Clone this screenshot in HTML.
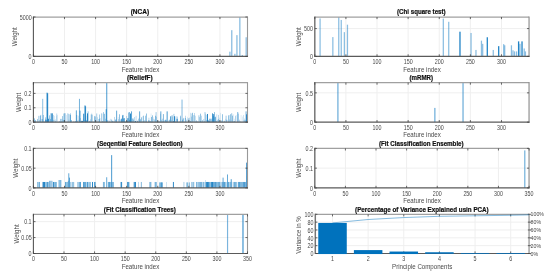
<!DOCTYPE html>
<html><head><meta charset="utf-8"><title>Feature selection weights</title>
<style>
html,body{margin:0;padding:0;background:#fff;}
body{width:550px;height:276px;overflow:hidden;}
svg{display:block;font-family:"Liberation Sans", sans-serif;}
.g{stroke:#efefef;stroke-width:1;}
.bt{fill:none;stroke:#a0a0a0;stroke-width:1.25;}
.bb{fill:none;stroke:#5a5a5a;stroke-width:1.15;}
.bl{fill:none;stroke:#555;stroke-width:1.1;}
.bl2{fill:none;stroke:#777;stroke-width:1.5;}
.br{fill:none;stroke:#999;stroke-width:1.1;}
.br2{fill:none;stroke:#909090;stroke-width:1.2;}
.tk{stroke:#444;stroke-width:0.8;}
.t{font-size:6.3px;fill:#4a4a4a;}
.l{font-size:7.0px;fill:#4a4a4a;}
.ti{font-size:7.1px;font-weight:bold;fill:#111;stroke:#111;stroke-width:0.22;}
.t2{font-size:6.2px;fill:#4a4a4a;}
</style></head><body>
<svg width="550" height="276" viewBox="0 0 550 276">
<rect width="550" height="276" fill="#fff"/>
<defs><filter id="bl" x="0" y="0" width="550" height="276" filterUnits="userSpaceOnUse"><feGaussianBlur stdDeviation="0.4"/></filter>
<filter id="bx" x="0" y="0" width="550" height="276" filterUnits="userSpaceOnUse"><feGaussianBlur stdDeviation="0.45"/></filter></defs>
<g filter="url(#bl)">
<line x1="64.49" y1="17" x2="64.49" y2="56.4" class="g"/>
<line x1="95.58" y1="17" x2="95.58" y2="56.4" class="g"/>
<line x1="126.68" y1="17" x2="126.68" y2="56.4" class="g"/>
<line x1="157.77" y1="17" x2="157.77" y2="56.4" class="g"/>
<line x1="188.86" y1="17" x2="188.86" y2="56.4" class="g"/>
<line x1="219.95" y1="17" x2="219.95" y2="56.4" class="g"/>
<g fill="#0072BD" fill-opacity="0.46">
<rect x="229.25" y="51.67" width="1.3" height="4.73"/>
<rect x="231.12" y="30.16" width="1.3" height="26.24"/>
<rect x="234.23" y="53.8" width="1.3" height="2.6"/>
<rect x="236.28" y="35.12" width="1.3" height="21.28"/>
<rect x="239.2" y="17" width="1.3" height="39.4"/>
<rect x="241.69" y="55.06" width="1.3" height="1.34"/>
<rect x="245.54" y="37.25" width="1.3" height="19.15"/>
</g>
<path d="M33.4 17H247.5" class="bt"/>
<path d="M247.5 16.5V56.9" class="br"/>
<path d="M33.4 56.4H248" class="bb"/>
<path d="M33.4 16.4V56.9" class="bl"/>
<line x1="33.4" y1="56.4" x2="33.4" y2="54.3" class="tk"/>
<line x1="33.4" y1="17" x2="33.4" y2="19.1" class="tk"/>
<line x1="64.49" y1="56.4" x2="64.49" y2="54.3" class="tk"/>
<line x1="64.49" y1="17" x2="64.49" y2="19.1" class="tk"/>
<line x1="95.58" y1="56.4" x2="95.58" y2="54.3" class="tk"/>
<line x1="95.58" y1="17" x2="95.58" y2="19.1" class="tk"/>
<line x1="126.68" y1="56.4" x2="126.68" y2="54.3" class="tk"/>
<line x1="126.68" y1="17" x2="126.68" y2="19.1" class="tk"/>
<line x1="157.77" y1="56.4" x2="157.77" y2="54.3" class="tk"/>
<line x1="157.77" y1="17" x2="157.77" y2="19.1" class="tk"/>
<line x1="188.86" y1="56.4" x2="188.86" y2="54.3" class="tk"/>
<line x1="188.86" y1="17" x2="188.86" y2="19.1" class="tk"/>
<line x1="219.95" y1="56.4" x2="219.95" y2="54.3" class="tk"/>
<line x1="219.95" y1="17" x2="219.95" y2="19.1" class="tk"/>
<line x1="33.4" y1="56.4" x2="35.5" y2="56.4" class="tk"/>
<line x1="247.5" y1="56.4" x2="245.4" y2="56.4" class="tk"/>
<line x1="33.4" y1="17" x2="35.5" y2="17" class="tk"/>
<line x1="247.5" y1="17" x2="245.4" y2="17" class="tk"/>
<line x1="64.49" y1="82.6" x2="64.49" y2="122.15" class="g"/>
<line x1="95.58" y1="82.6" x2="95.58" y2="122.15" class="g"/>
<line x1="126.68" y1="82.6" x2="126.68" y2="122.15" class="g"/>
<line x1="157.77" y1="82.6" x2="157.77" y2="122.15" class="g"/>
<line x1="188.86" y1="82.6" x2="188.86" y2="122.15" class="g"/>
<line x1="219.95" y1="82.6" x2="219.95" y2="122.15" class="g"/>
<line x1="33.4" y1="107.77" x2="247.5" y2="107.77" class="g"/>
<line x1="33.4" y1="93.39" x2="247.5" y2="93.39" class="g"/>
<g fill="#0072BD" fill-opacity="0.9">
<rect x="33.75" y="120.63" width="0.42" height="1.52" fill-opacity="0.45"/>
<rect x="34.58" y="118.35" width="0.42" height="3.8" fill-opacity="1.0"/>
<rect x="35" y="120.11" width="0.42" height="2.04" fill-opacity="1.0"/>
<rect x="35.83" y="121.57" width="0.42" height="0.58" fill-opacity="0.45"/>
<rect x="36.25" y="121.65" width="0.42" height="0.5" fill-opacity="0.6"/>
<rect x="37.08" y="122.05" width="0.42" height="0.1" fill-opacity="1.0"/>
<rect x="37.5" y="118.98" width="0.42" height="3.17" fill-opacity="0.85"/>
<rect x="38.33" y="121.89" width="0.42" height="0.26" fill-opacity="1.0"/>
<rect x="38.75" y="115.83" width="0.42" height="6.32" fill-opacity="1.0"/>
<rect x="39.17" y="120.03" width="0.83" height="2.12" fill-opacity="0.3"/>
<rect x="40" y="115.54" width="0.42" height="6.61" fill-opacity="1.0"/>
<rect x="40.42" y="114.85" width="0.83" height="7.3" fill-opacity="0.3"/>
<rect x="41.25" y="122.01" width="0.42" height="0.14" fill-opacity="0.85"/>
<rect x="41.67" y="119" width="0.83" height="3.15" fill-opacity="0.6"/>
<rect x="42.28" y="98.85" width="0.9" height="23.3" fill-opacity="0.5"/>
<rect x="42.92" y="114.96" width="0.83" height="7.19" fill-opacity="0.45"/>
<rect x="43.75" y="120.85" width="0.42" height="1.3" fill-opacity="0.45"/>
<rect x="44.17" y="121.91" width="0.83" height="0.24" fill-opacity="1.0"/>
<rect x="45" y="117.32" width="0.42" height="4.83" fill-opacity="0.85"/>
<rect x="45.42" y="119.57" width="0.83" height="2.58" fill-opacity="1.0"/>
<rect x="46.25" y="120.27" width="0.42" height="1.88" fill-opacity="1.0"/>
<rect x="46.63" y="92.67" width="0.9" height="29.48" fill-opacity="1"/>
<rect x="47.25" y="93.39" width="0.9" height="28.76" fill-opacity="0.9"/>
<rect x="47.92" y="118.86" width="0.83" height="3.29" fill-opacity="1.0"/>
<rect x="48.75" y="117.73" width="0.42" height="4.42" fill-opacity="0.45"/>
<rect x="49.17" y="115.34" width="0.83" height="6.81" fill-opacity="0.45"/>
<rect x="50" y="119.15" width="0.42" height="3" fill-opacity="1.0"/>
<rect x="50.42" y="113.23" width="0.83" height="8.92" fill-opacity="0.45"/>
<rect x="51.25" y="113.52" width="0.42" height="8.63" fill-opacity="1.0"/>
<rect x="51.67" y="113.23" width="0.83" height="8.92" fill-opacity="0.85"/>
<rect x="52.5" y="113.52" width="0.42" height="8.63" fill-opacity="1.0"/>
<rect x="52.92" y="114.96" width="0.83" height="7.19" fill-opacity="0.3"/>
<rect x="53.75" y="119.88" width="0.42" height="2.27" fill-opacity="1.0"/>
<rect x="54.17" y="115.84" width="0.42" height="6.31" fill-opacity="0.3"/>
<rect x="55" y="119.38" width="0.42" height="2.77" fill-opacity="0.45"/>
<rect x="55.42" y="121.34" width="0.42" height="0.81" fill-opacity="1.0"/>
<rect x="56.25" y="115.7" width="0.42" height="6.45" fill-opacity="0.3"/>
<rect x="56.67" y="113.52" width="0.42" height="8.63" fill-opacity="0.6"/>
<rect x="57.5" y="114.96" width="0.42" height="7.19" fill-opacity="0.3"/>
<rect x="57.92" y="121.62" width="0.42" height="0.53" fill-opacity="0.6"/>
<rect x="58.75" y="122.02" width="0.42" height="0.13" fill-opacity="0.85"/>
<rect x="59.17" y="121.27" width="0.42" height="0.88" fill-opacity="1.0"/>
<rect x="60" y="121.87" width="0.42" height="0.28" fill-opacity="1.0"/>
<rect x="60.42" y="118.87" width="0.42" height="3.28" fill-opacity="0.85"/>
<rect x="61.25" y="121.63" width="0.42" height="0.52" fill-opacity="1.0"/>
<rect x="61.67" y="118.84" width="0.42" height="3.31" fill-opacity="0.85"/>
<rect x="62.5" y="116.07" width="0.42" height="6.08" fill-opacity="0.85"/>
<rect x="62.92" y="119.98" width="0.42" height="2.17" fill-opacity="1.0"/>
<rect x="63.75" y="113.52" width="0.42" height="8.63" fill-opacity="1.0"/>
<rect x="64.17" y="113.23" width="0.42" height="8.92" fill-opacity="0.85"/>
<rect x="65" y="121.88" width="0.42" height="0.27" fill-opacity="0.45"/>
<rect x="65.42" y="113.23" width="0.42" height="8.92" fill-opacity="0.6"/>
<rect x="66.25" y="114.96" width="0.42" height="7.19" fill-opacity="0.3"/>
<rect x="66.67" y="121.67" width="0.42" height="0.48" fill-opacity="0.3"/>
<rect x="67.5" y="113.23" width="0.42" height="8.92" fill-opacity="0.45"/>
<rect x="67.92" y="113.69" width="0.42" height="8.46" fill-opacity="0.85"/>
<rect x="68.75" y="119.49" width="0.42" height="2.66" fill-opacity="0.45"/>
<rect x="69.17" y="114.24" width="0.42" height="7.91" fill-opacity="0.6"/>
<rect x="70" y="114.96" width="0.42" height="7.19" fill-opacity="1.0"/>
<rect x="70.42" y="113.38" width="0.42" height="8.77" fill-opacity="0.85"/>
<rect x="71.25" y="120.02" width="0.42" height="2.13" fill-opacity="1.0"/>
<rect x="71.67" y="121.42" width="0.42" height="0.73" fill-opacity="0.6"/>
<rect x="72.5" y="122.07" width="0.42" height="0.08" fill-opacity="0.85"/>
<rect x="72.92" y="121.96" width="0.42" height="0.19" fill-opacity="1.0"/>
<rect x="73.75" y="120.87" width="0.42" height="1.28" fill-opacity="0.85"/>
<rect x="74.17" y="121.98" width="0.42" height="0.17" fill-opacity="1.0"/>
<rect x="75" y="121.73" width="0.42" height="0.42" fill-opacity="0.6"/>
<rect x="75.42" y="121.14" width="0.42" height="1.01" fill-opacity="1.0"/>
<rect x="75.86" y="110.36" width="0.9" height="11.79" fill-opacity="0.7"/>
<rect x="76.67" y="114.96" width="0.42" height="7.19" fill-opacity="0.85"/>
<rect x="77.5" y="120.7" width="0.42" height="1.45" fill-opacity="1.0"/>
<rect x="77.92" y="115.7" width="0.42" height="6.45" fill-opacity="0.45"/>
<rect x="78.75" y="119.82" width="0.42" height="2.33" fill-opacity="0.6"/>
<rect x="78.97" y="98.85" width="0.9" height="23.3" fill-opacity="0.6"/>
<rect x="79.68" y="110.64" width="0.72" height="11.51" fill-opacity="0.85"/>
<rect x="80.42" y="118.09" width="0.42" height="4.06" fill-opacity="0.6"/>
<rect x="80.83" y="121.06" width="0.83" height="1.09" fill-opacity="1.0"/>
<rect x="81.67" y="120.64" width="0.42" height="1.51" fill-opacity="1.0"/>
<rect x="82.08" y="120.93" width="0.83" height="1.22" fill-opacity="1.0"/>
<rect x="82.92" y="118.61" width="0.42" height="3.54" fill-opacity="0.45"/>
<rect x="83.33" y="113.68" width="0.83" height="8.47" fill-opacity="1.0"/>
<rect x="84.17" y="120.1" width="0.42" height="2.05" fill-opacity="0.6"/>
<rect x="84.56" y="105.47" width="0.9" height="16.68" fill-opacity="1"/>
<rect x="85.18" y="106.33" width="0.9" height="15.82" fill-opacity="0.8"/>
<rect x="85.83" y="120.45" width="0.83" height="1.7" fill-opacity="1.0"/>
<rect x="86.67" y="115.72" width="0.42" height="6.43" fill-opacity="0.3"/>
<rect x="87.08" y="113.36" width="0.83" height="8.79" fill-opacity="1.0"/>
<rect x="87.67" y="111.36" width="0.9" height="10.79" fill-opacity="0.45"/>
<rect x="88.33" y="121.55" width="0.83" height="0.6" fill-opacity="0.45"/>
<rect x="89.17" y="120.93" width="0.42" height="1.22" fill-opacity="1.0"/>
<rect x="89.58" y="121.83" width="0.83" height="0.32" fill-opacity="1.0"/>
<rect x="90.42" y="119.31" width="0.42" height="2.84" fill-opacity="0.6"/>
<rect x="90.83" y="114.39" width="0.83" height="7.76" fill-opacity="0.6"/>
<rect x="91.67" y="112.84" width="0.42" height="9.31" fill-opacity="0.3"/>
<rect x="92.08" y="114.63" width="0.83" height="7.52" fill-opacity="0.3"/>
<rect x="92.92" y="121.89" width="0.42" height="0.26" fill-opacity="0.85"/>
<rect x="93.33" y="121.91" width="0.83" height="0.24" fill-opacity="1.0"/>
<rect x="94.17" y="115.96" width="0.42" height="6.19" fill-opacity="0.85"/>
<rect x="94.58" y="117.18" width="0.83" height="4.97" fill-opacity="0.3"/>
<rect x="95.42" y="116.25" width="0.42" height="5.9" fill-opacity="0.6"/>
<rect x="95.83" y="121.39" width="0.42" height="0.76" fill-opacity="0.3"/>
<rect x="96.67" y="113.43" width="0.42" height="8.72" fill-opacity="0.85"/>
<rect x="97.08" y="117.18" width="0.42" height="4.97" fill-opacity="0.45"/>
<rect x="97.92" y="121.24" width="0.42" height="0.91" fill-opacity="0.3"/>
<rect x="98.33" y="119.04" width="0.42" height="3.11" fill-opacity="0.6"/>
<rect x="99.17" y="114.54" width="0.42" height="7.61" fill-opacity="0.85"/>
<rect x="99.58" y="118.68" width="0.42" height="3.47" fill-opacity="0.85"/>
<rect x="100.42" y="118.07" width="0.42" height="4.08" fill-opacity="0.3"/>
<rect x="100.83" y="121.98" width="0.42" height="0.17" fill-opacity="0.3"/>
<rect x="101.67" y="113.36" width="0.42" height="8.79" fill-opacity="1.0"/>
<rect x="102.08" y="121.2" width="0.42" height="0.95" fill-opacity="1.0"/>
<rect x="102.92" y="113.79" width="0.42" height="8.36" fill-opacity="0.3"/>
<rect x="103.33" y="112.08" width="0.42" height="10.07" fill-opacity="0.85"/>
<rect x="104.17" y="122.13" width="0.42" height="0.02" fill-opacity="1.0"/>
<rect x="104.58" y="113.81" width="0.42" height="8.34" fill-opacity="1.0"/>
<rect x="105.42" y="118.72" width="0.42" height="3.43" fill-opacity="0.6"/>
<rect x="105.8" y="109.21" width="0.72" height="12.94" fill-opacity="1.0"/>
<rect x="106.33" y="82.6" width="0.9" height="39.55" fill-opacity="0.8"/>
<rect x="107.08" y="120.28" width="0.42" height="1.87" fill-opacity="1.0"/>
<rect x="107.92" y="121.48" width="0.42" height="0.67" fill-opacity="0.45"/>
<rect x="108.33" y="119.98" width="0.42" height="2.17" fill-opacity="0.3"/>
<rect x="109.17" y="121.1" width="0.42" height="1.05" fill-opacity="0.6"/>
<rect x="109.58" y="119.88" width="0.42" height="2.27" fill-opacity="0.3"/>
<rect x="110.42" y="118.79" width="0.42" height="3.36" fill-opacity="0.3"/>
<rect x="110.83" y="118.76" width="0.42" height="3.39" fill-opacity="0.3"/>
<rect x="111.67" y="119.7" width="0.42" height="2.45" fill-opacity="1.0"/>
<rect x="112.08" y="120.95" width="0.42" height="1.2" fill-opacity="1.0"/>
<rect x="112.92" y="120.55" width="0.42" height="1.6" fill-opacity="0.3"/>
<rect x="113.33" y="121.23" width="0.42" height="0.92" fill-opacity="0.45"/>
<rect x="114.17" y="121.61" width="0.42" height="0.54" fill-opacity="0.85"/>
<rect x="114.58" y="116.95" width="0.42" height="5.2" fill-opacity="0.6"/>
<rect x="115.42" y="119.73" width="0.42" height="2.42" fill-opacity="1.0"/>
<rect x="115.83" y="119.08" width="0.42" height="3.07" fill-opacity="0.6"/>
<rect x="116.37" y="110.64" width="0.72" height="11.51" fill-opacity="0.85"/>
<rect x="117.08" y="121.83" width="0.42" height="0.32" fill-opacity="1.0"/>
<rect x="117.92" y="117.09" width="0.42" height="5.06" fill-opacity="0.3"/>
<rect x="118.33" y="119.14" width="0.42" height="3.01" fill-opacity="0.6"/>
<rect x="119.17" y="114.4" width="0.42" height="7.75" fill-opacity="0.6"/>
<rect x="119.58" y="114.24" width="0.42" height="7.91" fill-opacity="0.6"/>
<rect x="120.42" y="119.31" width="0.42" height="2.84" fill-opacity="0.45"/>
<rect x="120.83" y="119.7" width="0.42" height="2.45" fill-opacity="0.85"/>
<rect x="121.25" y="118.7" width="0.83" height="3.45" fill-opacity="0.85"/>
<rect x="122.08" y="116.03" width="0.42" height="6.12" fill-opacity="0.85"/>
<rect x="122.5" y="114.93" width="0.83" height="7.22" fill-opacity="1.0"/>
<rect x="123.33" y="118.69" width="0.42" height="3.46" fill-opacity="0.85"/>
<rect x="123.75" y="118.16" width="0.83" height="3.99" fill-opacity="1.0"/>
<rect x="124.58" y="121.64" width="0.42" height="0.51" fill-opacity="1.0"/>
<rect x="125" y="121.87" width="0.83" height="0.28" fill-opacity="1.0"/>
<rect x="125.83" y="121.38" width="0.42" height="0.77" fill-opacity="1.0"/>
<rect x="126.25" y="115.97" width="0.83" height="6.18" fill-opacity="0.3"/>
<rect x="127.08" y="121.33" width="0.42" height="0.82" fill-opacity="1.0"/>
<rect x="127.5" y="118.14" width="0.83" height="4.01" fill-opacity="1.0"/>
<rect x="128.33" y="112.9" width="0.42" height="9.25" fill-opacity="0.6"/>
<rect x="128.75" y="112.08" width="0.83" height="10.07" fill-opacity="0.85"/>
<rect x="129.58" y="119.81" width="0.42" height="2.34" fill-opacity="1.0"/>
<rect x="130" y="113.52" width="0.83" height="8.63" fill-opacity="1.0"/>
<rect x="130.83" y="121.65" width="0.42" height="0.5" fill-opacity="1.0"/>
<rect x="131.29" y="111.36" width="0.72" height="10.79" fill-opacity="0.85"/>
<rect x="132.08" y="121.78" width="0.42" height="0.37" fill-opacity="0.6"/>
<rect x="132.5" y="118.5" width="0.83" height="3.65" fill-opacity="0.85"/>
<rect x="133.33" y="119.92" width="0.42" height="2.23" fill-opacity="0.6"/>
<rect x="133.75" y="121.77" width="0.83" height="0.38" fill-opacity="1.0"/>
<rect x="134.58" y="117.08" width="0.42" height="5.07" fill-opacity="0.6"/>
<rect x="135" y="121.02" width="0.83" height="1.13" fill-opacity="1.0"/>
<rect x="135.83" y="115.76" width="0.42" height="6.39" fill-opacity="0.6"/>
<rect x="136.25" y="121.84" width="0.42" height="0.31" fill-opacity="0.3"/>
<rect x="137.08" y="121.25" width="0.42" height="0.9" fill-opacity="0.85"/>
<rect x="137.5" y="120.68" width="0.42" height="1.47" fill-opacity="1.0"/>
<rect x="138.33" y="118.77" width="0.42" height="3.38" fill-opacity="0.6"/>
<rect x="138.75" y="117.81" width="0.42" height="4.34" fill-opacity="0.3"/>
<rect x="139.37" y="111.36" width="0.72" height="10.79" fill-opacity="0.85"/>
<rect x="140" y="119.29" width="0.42" height="2.86" fill-opacity="1.0"/>
<rect x="140.83" y="122.08" width="0.42" height="0.07" fill-opacity="1.0"/>
<rect x="141.25" y="117.33" width="0.42" height="4.82" fill-opacity="1.0"/>
<rect x="142.08" y="121.07" width="0.42" height="1.08" fill-opacity="0.45"/>
<rect x="142.5" y="116.25" width="0.42" height="5.9" fill-opacity="0.3"/>
<rect x="143.33" y="115.68" width="0.42" height="6.47" fill-opacity="1.0"/>
<rect x="143.75" y="121.16" width="0.42" height="0.99" fill-opacity="1.0"/>
<rect x="144.58" y="120.17" width="0.42" height="1.98" fill-opacity="0.6"/>
<rect x="145" y="115.68" width="0.42" height="6.47" fill-opacity="0.85"/>
<rect x="145.83" y="120.68" width="0.42" height="1.47" fill-opacity="0.6"/>
<rect x="146.25" y="113.52" width="0.42" height="8.63" fill-opacity="1.0"/>
<rect x="147.08" y="121.96" width="0.42" height="0.19" fill-opacity="0.6"/>
<rect x="147.5" y="121.92" width="0.42" height="0.23" fill-opacity="1.0"/>
<rect x="148.33" y="120.25" width="0.42" height="1.9" fill-opacity="1.0"/>
<rect x="148.75" y="117.72" width="0.42" height="4.43" fill-opacity="0.6"/>
<rect x="149.58" y="120.56" width="0.42" height="1.59" fill-opacity="1.0"/>
<rect x="150" y="120.96" width="0.42" height="1.19" fill-opacity="0.85"/>
<rect x="150.83" y="113.52" width="0.42" height="8.63" fill-opacity="0.3"/>
<rect x="151.25" y="116.97" width="0.42" height="5.18" fill-opacity="1.0"/>
<rect x="152.08" y="121.6" width="0.42" height="0.55" fill-opacity="0.3"/>
<rect x="152.5" y="115.37" width="0.42" height="6.78" fill-opacity="1.0"/>
<rect x="153.33" y="117.31" width="0.42" height="4.84" fill-opacity="0.3"/>
<rect x="153.75" y="118.96" width="0.42" height="3.19" fill-opacity="0.6"/>
<rect x="154.58" y="119.76" width="0.42" height="2.39" fill-opacity="0.6"/>
<rect x="155" y="115.73" width="0.42" height="6.42" fill-opacity="1.0"/>
<rect x="155.83" y="112.08" width="0.42" height="10.07" fill-opacity="0.85"/>
<rect x="156.25" y="116.73" width="0.42" height="5.42" fill-opacity="0.6"/>
<rect x="157.08" y="120.15" width="0.42" height="2" fill-opacity="1.0"/>
<rect x="157.5" y="122" width="0.42" height="0.15" fill-opacity="1.0"/>
<rect x="158.33" y="121.3" width="0.42" height="0.85" fill-opacity="0.6"/>
<rect x="158.75" y="120.6" width="0.42" height="1.55" fill-opacity="0.45"/>
<rect x="159.58" y="121.18" width="0.42" height="0.97" fill-opacity="0.6"/>
<rect x="160" y="113.75" width="0.42" height="8.4" fill-opacity="0.45"/>
<rect x="160.52" y="111.36" width="0.72" height="10.79" fill-opacity="0.85"/>
<rect x="161.25" y="119.88" width="0.42" height="2.27" fill-opacity="0.6"/>
<rect x="161.67" y="121.64" width="0.83" height="0.51" fill-opacity="1.0"/>
<rect x="162.5" y="118.65" width="0.42" height="3.5" fill-opacity="0.6"/>
<rect x="162.92" y="114.1" width="0.83" height="8.05" fill-opacity="0.6"/>
<rect x="163.75" y="121.04" width="0.42" height="1.11" fill-opacity="0.85"/>
<rect x="164.17" y="120.13" width="0.83" height="2.02" fill-opacity="0.3"/>
<rect x="165" y="121.71" width="0.42" height="0.44" fill-opacity="0.3"/>
<rect x="165.42" y="119.77" width="0.83" height="2.38" fill-opacity="1.0"/>
<rect x="166.25" y="121.57" width="0.42" height="0.58" fill-opacity="1.0"/>
<rect x="166.74" y="111.36" width="0.72" height="10.79" fill-opacity="1.0"/>
<rect x="167.5" y="121.69" width="0.42" height="0.46" fill-opacity="0.45"/>
<rect x="167.92" y="122.12" width="0.83" height="0.03" fill-opacity="0.6"/>
<rect x="168.75" y="120.43" width="0.42" height="1.72" fill-opacity="1.0"/>
<rect x="169.17" y="119.71" width="0.83" height="2.44" fill-opacity="0.45"/>
<rect x="170" y="116.66" width="0.42" height="5.49" fill-opacity="1.0"/>
<rect x="170.42" y="116.03" width="0.83" height="6.12" fill-opacity="0.6"/>
<rect x="171.25" y="120.2" width="0.42" height="1.95" fill-opacity="0.45"/>
<rect x="171.67" y="115.25" width="0.83" height="6.9" fill-opacity="0.6"/>
<rect x="172.5" y="116.7" width="0.42" height="5.45" fill-opacity="0.45"/>
<rect x="172.92" y="121.19" width="0.83" height="0.96" fill-opacity="1.0"/>
<rect x="173.75" y="113.87" width="0.42" height="8.28" fill-opacity="0.85"/>
<rect x="174.17" y="116.22" width="0.83" height="5.93" fill-opacity="1.0"/>
<rect x="175" y="121.55" width="0.42" height="0.6" fill-opacity="1.0"/>
<rect x="175.42" y="116.4" width="0.83" height="5.75" fill-opacity="0.3"/>
<rect x="176.25" y="116.18" width="0.42" height="5.97" fill-opacity="0.3"/>
<rect x="176.67" y="118.82" width="0.83" height="3.33" fill-opacity="1.0"/>
<rect x="177.5" y="116.56" width="0.42" height="5.59" fill-opacity="0.6"/>
<rect x="177.92" y="122.11" width="0.42" height="0.04" fill-opacity="0.6"/>
<rect x="178.75" y="121.73" width="0.42" height="0.42" fill-opacity="1.0"/>
<rect x="179.17" y="121.19" width="0.42" height="0.96" fill-opacity="0.45"/>
<rect x="180" y="115.68" width="0.42" height="6.47" fill-opacity="0.85"/>
<rect x="180.42" y="116.6" width="0.42" height="5.55" fill-opacity="0.45"/>
<rect x="181.25" y="120.99" width="0.42" height="1.16" fill-opacity="0.3"/>
<rect x="181.57" y="99.57" width="0.9" height="22.58" fill-opacity="0.55"/>
<rect x="182.5" y="119.69" width="0.42" height="2.46" fill-opacity="1.0"/>
<rect x="182.92" y="118.36" width="0.42" height="3.79" fill-opacity="1.0"/>
<rect x="183.75" y="117.83" width="0.42" height="4.32" fill-opacity="0.45"/>
<rect x="184.17" y="121.84" width="0.42" height="0.31" fill-opacity="1.0"/>
<rect x="185" y="117.96" width="0.42" height="4.19" fill-opacity="0.85"/>
<rect x="185.42" y="115.75" width="0.42" height="6.4" fill-opacity="0.6"/>
<rect x="186.25" y="120.06" width="0.42" height="2.09" fill-opacity="0.45"/>
<rect x="186.67" y="119.33" width="0.42" height="2.82" fill-opacity="0.3"/>
<rect x="187.5" y="116.78" width="0.42" height="5.37" fill-opacity="0.3"/>
<rect x="187.92" y="118.33" width="0.42" height="3.82" fill-opacity="1.0"/>
<rect x="188.75" y="121.86" width="0.42" height="0.29" fill-opacity="0.45"/>
<rect x="189.17" y="117.68" width="0.42" height="4.47" fill-opacity="0.6"/>
<rect x="190" y="120.97" width="0.42" height="1.18" fill-opacity="1.0"/>
<rect x="190.42" y="112.8" width="0.42" height="9.35" fill-opacity="0.45"/>
<rect x="191.25" y="116.56" width="0.42" height="5.59" fill-opacity="0.6"/>
<rect x="191.67" y="113.52" width="0.42" height="8.63" fill-opacity="0.6"/>
<rect x="192.5" y="112.8" width="0.42" height="9.35" fill-opacity="1.0"/>
<rect x="192.92" y="120.71" width="0.42" height="1.44" fill-opacity="0.3"/>
<rect x="193.75" y="115.11" width="0.42" height="7.04" fill-opacity="1.0"/>
<rect x="194.17" y="112.99" width="0.42" height="9.16" fill-opacity="0.6"/>
<rect x="195" y="121.62" width="0.42" height="0.53" fill-opacity="1.0"/>
<rect x="195.42" y="115.77" width="0.42" height="6.38" fill-opacity="0.45"/>
<rect x="196.25" y="120.34" width="0.42" height="1.81" fill-opacity="0.85"/>
<rect x="196.67" y="121.06" width="0.42" height="1.09" fill-opacity="0.6"/>
<rect x="197.5" y="121.48" width="0.42" height="0.67" fill-opacity="1.0"/>
<rect x="197.92" y="121.55" width="0.42" height="0.6" fill-opacity="0.6"/>
<rect x="198.75" y="115.3" width="0.42" height="6.85" fill-opacity="0.85"/>
<rect x="199.17" y="117.09" width="0.42" height="5.06" fill-opacity="0.6"/>
<rect x="200" y="113.66" width="0.42" height="8.49" fill-opacity="1.0"/>
<rect x="200.42" y="121.12" width="0.42" height="1.03" fill-opacity="0.85"/>
<rect x="201.25" y="115.68" width="0.42" height="6.47" fill-opacity="0.6"/>
<rect x="201.67" y="121.58" width="0.42" height="0.57" fill-opacity="0.85"/>
<rect x="202.5" y="120.26" width="0.42" height="1.89" fill-opacity="1.0"/>
<rect x="202.92" y="121.75" width="0.42" height="0.4" fill-opacity="0.85"/>
<rect x="203.33" y="118.95" width="0.83" height="3.2" fill-opacity="0.3"/>
<rect x="204.17" y="121.29" width="0.42" height="0.86" fill-opacity="0.85"/>
<rect x="204.58" y="112.08" width="0.83" height="10.07" fill-opacity="0.45"/>
<rect x="205.42" y="113.63" width="0.42" height="8.52" fill-opacity="0.45"/>
<rect x="205.83" y="114.84" width="0.83" height="7.31" fill-opacity="0.3"/>
<rect x="206.67" y="120.04" width="0.42" height="2.11" fill-opacity="0.85"/>
<rect x="207.08" y="113.98" width="0.83" height="8.17" fill-opacity="1.0"/>
<rect x="207.92" y="119.95" width="0.42" height="2.2" fill-opacity="1.0"/>
<rect x="208.33" y="120.88" width="0.83" height="1.27" fill-opacity="0.85"/>
<rect x="209.17" y="121.19" width="0.42" height="0.96" fill-opacity="1.0"/>
<rect x="209.58" y="118.71" width="0.83" height="3.44" fill-opacity="1.0"/>
<rect x="210.42" y="121.84" width="0.42" height="0.31" fill-opacity="0.45"/>
<rect x="210.83" y="120.54" width="0.83" height="1.61" fill-opacity="0.3"/>
<rect x="211.67" y="118.66" width="0.42" height="3.49" fill-opacity="1.0"/>
<rect x="212.08" y="113.34" width="0.83" height="8.81" fill-opacity="0.85"/>
<rect x="212.92" y="115.93" width="0.42" height="6.22" fill-opacity="1.0"/>
<rect x="213.33" y="114.1" width="0.83" height="8.05" fill-opacity="1.0"/>
<rect x="214.17" y="112.08" width="0.42" height="10.07" fill-opacity="1.0"/>
<rect x="214.58" y="117.26" width="0.83" height="4.89" fill-opacity="0.6"/>
<rect x="215.42" y="116.7" width="0.42" height="5.45" fill-opacity="1.0"/>
<rect x="215.83" y="120.88" width="0.83" height="1.27" fill-opacity="0.6"/>
<rect x="216.67" y="114.24" width="0.42" height="7.91" fill-opacity="0.45"/>
<rect x="217.08" y="120.16" width="0.83" height="1.99" fill-opacity="0.3"/>
<rect x="217.92" y="119.19" width="0.42" height="2.96" fill-opacity="1.0"/>
<rect x="218.33" y="114.93" width="0.42" height="7.22" fill-opacity="0.6"/>
<rect x="219.17" y="117.69" width="0.42" height="4.46" fill-opacity="0.3"/>
<rect x="219.58" y="120.04" width="0.42" height="2.11" fill-opacity="0.45"/>
<rect x="220.42" y="112.8" width="0.42" height="9.35" fill-opacity="0.3"/>
<rect x="220.83" y="121.11" width="0.42" height="1.04" fill-opacity="0.3"/>
<rect x="221.67" y="120.46" width="0.42" height="1.69" fill-opacity="1.0"/>
<rect x="222.08" y="114.24" width="0.42" height="7.91" fill-opacity="1.0"/>
<rect x="222.92" y="120.66" width="0.42" height="1.49" fill-opacity="0.45"/>
<rect x="223.33" y="122.05" width="0.42" height="0.1" fill-opacity="0.85"/>
<rect x="224.17" y="120.78" width="0.42" height="1.37" fill-opacity="1.0"/>
<rect x="224.58" y="121.85" width="0.42" height="0.3" fill-opacity="0.3"/>
<rect x="225.42" y="118.83" width="0.42" height="3.32" fill-opacity="0.3"/>
<rect x="225.83" y="115.68" width="0.42" height="6.47" fill-opacity="0.85"/>
<rect x="226.67" y="119.72" width="0.42" height="2.43" fill-opacity="1.0"/>
<rect x="227.08" y="120.17" width="0.42" height="1.98" fill-opacity="0.3"/>
<rect x="227.92" y="121.83" width="0.42" height="0.32" fill-opacity="0.45"/>
<rect x="228.33" y="115.32" width="0.42" height="6.83" fill-opacity="1.0"/>
<rect x="229.17" y="119.46" width="0.42" height="2.69" fill-opacity="0.6"/>
<rect x="229.58" y="115.06" width="0.42" height="7.09" fill-opacity="0.45"/>
<rect x="230.42" y="114.24" width="0.42" height="7.91" fill-opacity="1.0"/>
<rect x="230.83" y="119.91" width="0.42" height="2.24" fill-opacity="0.3"/>
<rect x="231.67" y="113.24" width="0.42" height="8.91" fill-opacity="1.0"/>
<rect x="232.08" y="115.62" width="0.42" height="6.53" fill-opacity="1.0"/>
<rect x="232.92" y="121.33" width="0.42" height="0.82" fill-opacity="0.85"/>
<rect x="233.33" y="114.32" width="0.42" height="7.83" fill-opacity="0.3"/>
<rect x="234.17" y="121" width="0.42" height="1.15" fill-opacity="1.0"/>
<rect x="234.58" y="118.73" width="0.42" height="3.42" fill-opacity="0.3"/>
<rect x="235.42" y="116.09" width="0.42" height="6.06" fill-opacity="0.6"/>
<rect x="235.83" y="114.96" width="0.42" height="7.19" fill-opacity="0.45"/>
<rect x="236.67" y="121.97" width="0.42" height="0.18" fill-opacity="0.6"/>
<rect x="237.08" y="112.08" width="0.42" height="10.07" fill-opacity="1.0"/>
<rect x="237.92" y="113.6" width="0.42" height="8.55" fill-opacity="0.85"/>
<rect x="238.33" y="112.08" width="0.42" height="10.07" fill-opacity="0.3"/>
<rect x="239.17" y="119.65" width="0.42" height="2.5" fill-opacity="0.6"/>
<rect x="239.58" y="121.25" width="0.42" height="0.9" fill-opacity="0.45"/>
<rect x="240.42" y="121.09" width="0.42" height="1.06" fill-opacity="0.45"/>
<rect x="240.83" y="114.96" width="0.42" height="7.19" fill-opacity="0.3"/>
<rect x="241.67" y="121.86" width="0.42" height="0.29" fill-opacity="1.0"/>
<rect x="242.08" y="116.55" width="0.42" height="5.6" fill-opacity="0.3"/>
<rect x="242.92" y="122.07" width="0.42" height="0.08" fill-opacity="0.45"/>
<rect x="243.33" y="114.96" width="0.42" height="7.19" fill-opacity="0.45"/>
<rect x="243.75" y="120.45" width="0.83" height="1.7" fill-opacity="0.6"/>
<rect x="244.58" y="118.52" width="0.42" height="3.63" fill-opacity="0.45"/>
<rect x="245" y="119.87" width="0.83" height="2.28" fill-opacity="0.3"/>
<rect x="245.71" y="111.36" width="0.72" height="10.79" fill-opacity="0.85"/>
<rect x="246.25" y="114.31" width="0.83" height="7.84" fill-opacity="1.0"/>
<rect x="247.08" y="121.87" width="0.42" height="0.28" fill-opacity="1.0"/>
</g>
<path d="M33.4 82.6H247.5" class="bt"/>
<path d="M247.5 82.1V122.65" class="br"/>
<path d="M33.4 122.15H248" class="bb"/>
<path d="M33.4 82V122.65" class="bl"/>
<line x1="33.4" y1="122.15" x2="33.4" y2="120.05" class="tk"/>
<line x1="33.4" y1="82.6" x2="33.4" y2="84.7" class="tk"/>
<line x1="64.49" y1="122.15" x2="64.49" y2="120.05" class="tk"/>
<line x1="64.49" y1="82.6" x2="64.49" y2="84.7" class="tk"/>
<line x1="95.58" y1="122.15" x2="95.58" y2="120.05" class="tk"/>
<line x1="95.58" y1="82.6" x2="95.58" y2="84.7" class="tk"/>
<line x1="126.68" y1="122.15" x2="126.68" y2="120.05" class="tk"/>
<line x1="126.68" y1="82.6" x2="126.68" y2="84.7" class="tk"/>
<line x1="157.77" y1="122.15" x2="157.77" y2="120.05" class="tk"/>
<line x1="157.77" y1="82.6" x2="157.77" y2="84.7" class="tk"/>
<line x1="188.86" y1="122.15" x2="188.86" y2="120.05" class="tk"/>
<line x1="188.86" y1="82.6" x2="188.86" y2="84.7" class="tk"/>
<line x1="219.95" y1="122.15" x2="219.95" y2="120.05" class="tk"/>
<line x1="219.95" y1="82.6" x2="219.95" y2="84.7" class="tk"/>
<line x1="33.4" y1="122.15" x2="35.5" y2="122.15" class="tk"/>
<line x1="247.5" y1="122.15" x2="245.4" y2="122.15" class="tk"/>
<line x1="33.4" y1="107.77" x2="35.5" y2="107.77" class="tk"/>
<line x1="247.5" y1="107.77" x2="245.4" y2="107.77" class="tk"/>
<line x1="33.4" y1="93.39" x2="35.5" y2="93.39" class="tk"/>
<line x1="247.5" y1="93.39" x2="245.4" y2="93.39" class="tk"/>
<line x1="64.49" y1="148.4" x2="64.49" y2="187.9" class="g"/>
<line x1="95.58" y1="148.4" x2="95.58" y2="187.9" class="g"/>
<line x1="126.68" y1="148.4" x2="126.68" y2="187.9" class="g"/>
<line x1="157.77" y1="148.4" x2="157.77" y2="187.9" class="g"/>
<line x1="188.86" y1="148.4" x2="188.86" y2="187.9" class="g"/>
<line x1="219.95" y1="148.4" x2="219.95" y2="187.9" class="g"/>
<line x1="33.4" y1="168.15" x2="247.5" y2="168.15" class="g"/>
<g fill="#0072BD" fill-opacity="0.95">
<rect x="37.5" y="181.97" width="0.42" height="5.93" fill-opacity="1.0"/>
<rect x="38.33" y="181.97" width="0.42" height="5.93" fill-opacity="0.45"/>
<rect x="38.75" y="181.97" width="0.42" height="5.93" fill-opacity="0.8"/>
<rect x="39.17" y="181.97" width="0.83" height="5.93" fill-opacity="0.6"/>
<rect x="42.5" y="181.97" width="0.42" height="5.93" fill-opacity="0.8"/>
<rect x="42.92" y="181.97" width="0.83" height="5.93" fill-opacity="1.0"/>
<rect x="43.75" y="181.97" width="0.42" height="5.93" fill-opacity="1.0"/>
<rect x="44.17" y="181.97" width="0.83" height="5.93" fill-opacity="1.0"/>
<rect x="45" y="181.97" width="0.42" height="5.93" fill-opacity="1.0"/>
<rect x="46.25" y="181.97" width="0.42" height="5.93" fill-opacity="0.45"/>
<rect x="46.67" y="181.97" width="0.83" height="5.93" fill-opacity="1.0"/>
<rect x="47.5" y="181.97" width="0.42" height="5.93" fill-opacity="0.8"/>
<rect x="47.92" y="181.97" width="0.83" height="5.93" fill-opacity="0.45"/>
<rect x="48.75" y="181.97" width="0.42" height="5.93" fill-opacity="0.45"/>
<rect x="49.17" y="180.79" width="0.83" height="7.11" fill-opacity="0.6"/>
<rect x="50" y="180.79" width="0.42" height="7.11" fill-opacity="0.45"/>
<rect x="50.42" y="180.79" width="0.83" height="7.11" fill-opacity="0.45"/>
<rect x="51.25" y="180.79" width="0.42" height="7.11" fill-opacity="0.45"/>
<rect x="51.67" y="180.79" width="0.83" height="7.11" fill-opacity="0.45"/>
<rect x="52.92" y="181.97" width="0.83" height="5.93" fill-opacity="1.0"/>
<rect x="53.75" y="181.97" width="0.42" height="5.93" fill-opacity="0.45"/>
<rect x="54.17" y="181.97" width="0.42" height="5.93" fill-opacity="1.0"/>
<rect x="55" y="181.97" width="0.42" height="5.93" fill-opacity="0.45"/>
<rect x="55.42" y="181.97" width="0.42" height="5.93" fill-opacity="1.0"/>
<rect x="56.25" y="181.97" width="0.42" height="5.93" fill-opacity="1.0"/>
<rect x="58.75" y="180" width="0.42" height="7.9" fill-opacity="1.0"/>
<rect x="59.17" y="180" width="0.42" height="7.9" fill-opacity="0.8"/>
<rect x="60" y="180" width="0.42" height="7.9" fill-opacity="0.6"/>
<rect x="60.42" y="180" width="0.42" height="7.9" fill-opacity="0.8"/>
<rect x="61.25" y="180" width="0.42" height="7.9" fill-opacity="0.45"/>
<rect x="65" y="181.97" width="0.42" height="5.93" fill-opacity="0.8"/>
<rect x="65.42" y="181.97" width="0.42" height="5.93" fill-opacity="1.0"/>
<rect x="66.25" y="181.97" width="0.42" height="5.93" fill-opacity="1.0"/>
<rect x="67.5" y="181.97" width="0.42" height="5.93" fill-opacity="1.0"/>
<rect x="67.92" y="180.79" width="0.42" height="7.11" fill-opacity="1.0"/>
<rect x="68.48" y="173.28" width="0.72" height="14.62" fill-opacity="0.85"/>
<rect x="69.11" y="177.63" width="0.72" height="10.27" fill-opacity="0.85"/>
<rect x="70" y="181.97" width="0.42" height="5.93" fill-opacity="0.8"/>
<rect x="71.67" y="181.97" width="0.42" height="5.93" fill-opacity="0.6"/>
<rect x="72.5" y="181.97" width="0.42" height="5.93" fill-opacity="0.8"/>
<rect x="72.92" y="181.97" width="0.42" height="5.93" fill-opacity="1.0"/>
<rect x="73.75" y="181.97" width="0.42" height="5.93" fill-opacity="0.45"/>
<rect x="77.5" y="181.97" width="0.42" height="5.93" fill-opacity="0.6"/>
<rect x="77.92" y="181.97" width="0.42" height="5.93" fill-opacity="1.0"/>
<rect x="79.17" y="181.97" width="0.42" height="5.93" fill-opacity="0.45"/>
<rect x="79.58" y="181.97" width="0.83" height="5.93" fill-opacity="1.0"/>
<rect x="80.42" y="181.97" width="0.42" height="5.93" fill-opacity="1.0"/>
<rect x="83.33" y="181.97" width="0.83" height="5.93" fill-opacity="1.0"/>
<rect x="84.17" y="181.97" width="0.42" height="5.93" fill-opacity="0.45"/>
<rect x="84.58" y="181.97" width="0.83" height="5.93" fill-opacity="1.0"/>
<rect x="85.42" y="181.97" width="0.42" height="5.93" fill-opacity="0.6"/>
<rect x="85.83" y="181.97" width="0.83" height="5.93" fill-opacity="0.45"/>
<rect x="87.08" y="181.97" width="0.83" height="5.93" fill-opacity="0.8"/>
<rect x="87.92" y="181.97" width="0.42" height="5.93" fill-opacity="1.0"/>
<rect x="89.17" y="181.97" width="0.42" height="5.93" fill-opacity="1.0"/>
<rect x="90.42" y="181.97" width="0.42" height="5.93" fill-opacity="1.0"/>
<rect x="92.08" y="181.97" width="0.83" height="5.93" fill-opacity="1.0"/>
<rect x="94.17" y="181.97" width="0.42" height="5.93" fill-opacity="1.0"/>
<rect x="94.58" y="181.97" width="0.83" height="5.93" fill-opacity="1.0"/>
<rect x="102.92" y="181.97" width="0.42" height="5.93" fill-opacity="0.45"/>
<rect x="103.33" y="181.97" width="0.42" height="5.93" fill-opacity="1.0"/>
<rect x="104.17" y="181.97" width="0.42" height="5.93" fill-opacity="1.0"/>
<rect x="106.42" y="177.24" width="0.72" height="10.66" fill-opacity="0.85"/>
<rect x="107.92" y="181.97" width="0.42" height="5.93" fill-opacity="0.8"/>
<rect x="108.33" y="181.97" width="0.42" height="5.93" fill-opacity="1.0"/>
<rect x="109.17" y="181.97" width="0.42" height="5.93" fill-opacity="1.0"/>
<rect x="109.58" y="181.97" width="0.42" height="5.93" fill-opacity="1.0"/>
<rect x="110.42" y="181.97" width="0.42" height="5.93" fill-opacity="0.8"/>
<rect x="110.83" y="181.97" width="0.42" height="5.93" fill-opacity="1.0"/>
<rect x="111.39" y="155.12" width="0.72" height="32.78" fill-opacity="1.0"/>
<rect x="112.08" y="181.97" width="0.42" height="5.93" fill-opacity="1.0"/>
<rect x="112.92" y="181.97" width="0.42" height="5.93" fill-opacity="1.0"/>
<rect x="113.33" y="181.97" width="0.42" height="5.93" fill-opacity="0.45"/>
<rect x="120.42" y="181.97" width="0.42" height="5.93" fill-opacity="0.6"/>
<rect x="120.83" y="181.97" width="0.42" height="5.93" fill-opacity="0.6"/>
<rect x="121.25" y="181.97" width="0.83" height="5.93" fill-opacity="1.0"/>
<rect x="127.08" y="181.97" width="0.42" height="5.93" fill-opacity="0.8"/>
<rect x="127.5" y="181.97" width="0.83" height="5.93" fill-opacity="1.0"/>
<rect x="128.33" y="181.97" width="0.42" height="5.93" fill-opacity="1.0"/>
<rect x="128.75" y="181.97" width="0.83" height="5.93" fill-opacity="0.45"/>
<rect x="133.75" y="181.97" width="0.83" height="5.93" fill-opacity="1.0"/>
<rect x="134.58" y="181.97" width="0.42" height="5.93" fill-opacity="0.6"/>
<rect x="135" y="181.97" width="0.83" height="5.93" fill-opacity="1.0"/>
<rect x="138.33" y="181.97" width="0.42" height="5.93" fill-opacity="0.6"/>
<rect x="140.83" y="181.97" width="0.42" height="5.93" fill-opacity="0.45"/>
<rect x="141.25" y="181.97" width="0.42" height="5.93" fill-opacity="0.8"/>
<rect x="149.58" y="181.97" width="0.42" height="5.93" fill-opacity="0.8"/>
<rect x="150" y="181.97" width="0.42" height="5.93" fill-opacity="1.0"/>
<rect x="150.83" y="181.97" width="0.42" height="5.93" fill-opacity="0.8"/>
<rect x="154.58" y="181.97" width="0.42" height="5.93" fill-opacity="0.45"/>
<rect x="155" y="181.97" width="0.42" height="5.93" fill-opacity="1.0"/>
<rect x="155.83" y="181.97" width="0.42" height="5.93" fill-opacity="1.0"/>
<rect x="156.25" y="181.97" width="0.42" height="5.93" fill-opacity="0.45"/>
<rect x="159.58" y="182.37" width="0.42" height="5.53" fill-opacity="1.0"/>
<rect x="160" y="182.37" width="0.42" height="5.53" fill-opacity="1.0"/>
<rect x="160.83" y="182.37" width="0.42" height="5.53" fill-opacity="1.0"/>
<rect x="161.25" y="182.37" width="0.42" height="5.53" fill-opacity="1.0"/>
<rect x="161.67" y="182.37" width="0.83" height="5.53" fill-opacity="1.0"/>
<rect x="166.25" y="181.97" width="0.42" height="5.93" fill-opacity="0.45"/>
<rect x="172.92" y="181.97" width="0.83" height="5.93" fill-opacity="1.0"/>
<rect x="183.75" y="181.97" width="0.42" height="5.93" fill-opacity="0.8"/>
<rect x="186.67" y="182.37" width="0.42" height="5.53" fill-opacity="1.0"/>
<rect x="187.5" y="182.37" width="0.42" height="5.53" fill-opacity="1.0"/>
<rect x="187.92" y="182.37" width="0.42" height="5.53" fill-opacity="0.45"/>
<rect x="189.17" y="182.37" width="0.42" height="5.53" fill-opacity="1.0"/>
<rect x="191.67" y="181.97" width="0.42" height="5.93" fill-opacity="1.0"/>
<rect x="192.5" y="181.97" width="0.42" height="5.93" fill-opacity="0.45"/>
<rect x="192.92" y="181.97" width="0.42" height="5.93" fill-opacity="1.0"/>
<rect x="193.75" y="181.97" width="0.42" height="5.93" fill-opacity="0.6"/>
<rect x="196.25" y="181.97" width="0.42" height="5.93" fill-opacity="0.6"/>
<rect x="196.67" y="181.97" width="0.42" height="5.93" fill-opacity="1.0"/>
<rect x="197.5" y="181.97" width="0.42" height="5.93" fill-opacity="0.45"/>
<rect x="197.92" y="181.97" width="0.42" height="5.93" fill-opacity="1.0"/>
<rect x="198.75" y="181.97" width="0.42" height="5.93" fill-opacity="0.45"/>
<rect x="199.17" y="181.97" width="0.42" height="5.93" fill-opacity="1.0"/>
<rect x="200" y="181.97" width="0.42" height="5.93" fill-opacity="0.45"/>
<rect x="200.42" y="181.97" width="0.42" height="5.93" fill-opacity="1.0"/>
<rect x="201.25" y="181.97" width="0.42" height="5.93" fill-opacity="1.0"/>
<rect x="201.67" y="181.97" width="0.42" height="5.93" fill-opacity="0.6"/>
<rect x="202.5" y="181.97" width="0.42" height="5.93" fill-opacity="0.45"/>
<rect x="202.92" y="181.97" width="0.42" height="5.93" fill-opacity="0.8"/>
<rect x="203.33" y="181.97" width="0.83" height="5.93" fill-opacity="0.45"/>
<rect x="204.58" y="181.97" width="0.83" height="5.93" fill-opacity="0.45"/>
<rect x="205.42" y="180" width="0.42" height="7.9" fill-opacity="0.45"/>
<rect x="205.83" y="181.97" width="0.83" height="5.93" fill-opacity="1.0"/>
<rect x="206.67" y="181.97" width="0.42" height="5.93" fill-opacity="1.0"/>
<rect x="207.08" y="181.97" width="0.83" height="5.93" fill-opacity="1.0"/>
<rect x="207.92" y="181.97" width="0.42" height="5.93" fill-opacity="0.8"/>
<rect x="208.33" y="181.97" width="0.83" height="5.93" fill-opacity="1.0"/>
<rect x="209.17" y="181.97" width="0.42" height="5.93" fill-opacity="0.8"/>
<rect x="209.58" y="181.97" width="0.83" height="5.93" fill-opacity="0.45"/>
<rect x="210.42" y="181.97" width="0.42" height="5.93" fill-opacity="0.45"/>
<rect x="210.83" y="181.97" width="0.83" height="5.93" fill-opacity="1.0"/>
<rect x="211.67" y="181.97" width="0.42" height="5.93" fill-opacity="1.0"/>
<rect x="212.08" y="181.97" width="0.83" height="5.93" fill-opacity="1.0"/>
<rect x="212.92" y="181.97" width="0.42" height="5.93" fill-opacity="1.0"/>
<rect x="213.33" y="181.97" width="0.83" height="5.93" fill-opacity="0.6"/>
<rect x="214.17" y="181.97" width="0.42" height="5.93" fill-opacity="0.45"/>
<rect x="214.58" y="181.97" width="0.83" height="5.93" fill-opacity="1.0"/>
<rect x="215.42" y="181.97" width="0.42" height="5.93" fill-opacity="1.0"/>
<rect x="215.83" y="181.97" width="0.83" height="5.93" fill-opacity="0.45"/>
<rect x="216.67" y="181.97" width="0.42" height="5.93" fill-opacity="1.0"/>
<rect x="217.08" y="181.97" width="0.83" height="5.93" fill-opacity="0.45"/>
<rect x="217.92" y="181.97" width="0.42" height="5.93" fill-opacity="1.0"/>
<rect x="218.33" y="181.97" width="0.42" height="5.93" fill-opacity="0.8"/>
<rect x="219.17" y="181.97" width="0.42" height="5.93" fill-opacity="1.0"/>
<rect x="219.58" y="181.97" width="0.42" height="5.93" fill-opacity="0.6"/>
<rect x="220.42" y="181.97" width="0.42" height="5.93" fill-opacity="0.45"/>
<rect x="220.83" y="181.97" width="0.42" height="5.93" fill-opacity="0.6"/>
<rect x="221.67" y="181.97" width="0.42" height="5.93" fill-opacity="0.6"/>
<rect x="222.08" y="181.97" width="0.42" height="5.93" fill-opacity="1.0"/>
<rect x="222.7" y="177.63" width="0.72" height="10.27" fill-opacity="0.85"/>
<rect x="223.33" y="181.97" width="0.42" height="5.93" fill-opacity="1.0"/>
<rect x="224.17" y="181.97" width="0.42" height="5.93" fill-opacity="1.0"/>
<rect x="224.58" y="181.97" width="0.42" height="5.93" fill-opacity="1.0"/>
<rect x="225.42" y="181.97" width="0.42" height="5.93" fill-opacity="1.0"/>
<rect x="226.67" y="181.97" width="0.42" height="5.93" fill-opacity="0.8"/>
<rect x="227.05" y="174.47" width="0.72" height="13.43" fill-opacity="0.85"/>
<rect x="227.92" y="181.97" width="0.42" height="5.93" fill-opacity="1.0"/>
<rect x="228.33" y="181.97" width="0.42" height="5.93" fill-opacity="1.0"/>
<rect x="229.58" y="181.97" width="0.42" height="5.93" fill-opacity="0.8"/>
<rect x="230.42" y="181.97" width="0.42" height="5.93" fill-opacity="1.0"/>
<rect x="230.79" y="179.21" width="0.72" height="8.69" fill-opacity="1.0"/>
<rect x="231.67" y="181.97" width="0.42" height="5.93" fill-opacity="0.45"/>
<rect x="232.92" y="181.97" width="0.42" height="5.93" fill-opacity="1.0"/>
<rect x="234.17" y="181.97" width="0.42" height="5.93" fill-opacity="1.0"/>
<rect x="234.58" y="181.97" width="0.42" height="5.93" fill-opacity="0.6"/>
<rect x="235.42" y="181.97" width="0.42" height="5.93" fill-opacity="1.0"/>
<rect x="235.83" y="181.97" width="0.42" height="5.93" fill-opacity="1.0"/>
<rect x="236.67" y="181.97" width="0.42" height="5.93" fill-opacity="0.6"/>
<rect x="237.92" y="181.97" width="0.42" height="5.93" fill-opacity="1.0"/>
<rect x="238.33" y="181.97" width="0.42" height="5.93" fill-opacity="1.0"/>
<rect x="239.17" y="181.97" width="0.42" height="5.93" fill-opacity="1.0"/>
<rect x="239.58" y="181.97" width="0.42" height="5.93" fill-opacity="1.0"/>
<rect x="240.42" y="181.97" width="0.42" height="5.93" fill-opacity="1.0"/>
<rect x="240.83" y="181.97" width="0.42" height="5.93" fill-opacity="1.0"/>
<rect x="241.67" y="181.97" width="0.42" height="5.93" fill-opacity="1.0"/>
<rect x="242.08" y="181.97" width="0.42" height="5.93" fill-opacity="1.0"/>
<rect x="242.92" y="181.97" width="0.42" height="5.93" fill-opacity="0.6"/>
<rect x="243.33" y="181.97" width="0.42" height="5.93" fill-opacity="1.0"/>
<rect x="243.75" y="181.97" width="0.83" height="5.93" fill-opacity="1.0"/>
<rect x="244.58" y="181.97" width="0.42" height="5.93" fill-opacity="0.6"/>
<rect x="245" y="181.97" width="0.83" height="5.93" fill-opacity="0.6"/>
<rect x="245.83" y="181.97" width="0.42" height="5.93" fill-opacity="0.45"/>
<rect x="246.33" y="162.62" width="0.72" height="25.28" fill-opacity="1.0"/>
<rect x="246.95" y="176.05" width="0.72" height="11.85" fill-opacity="1.0"/>
</g>
<path d="M33.4 148.4H247.5" class="bt"/>
<path d="M247.5 147.9V188.4" class="br"/>
<path d="M33.4 187.9H248" class="bb"/>
<path d="M33.4 147.8V188.4" class="bl"/>
<line x1="33.4" y1="187.9" x2="33.4" y2="185.8" class="tk"/>
<line x1="33.4" y1="148.4" x2="33.4" y2="150.5" class="tk"/>
<line x1="64.49" y1="187.9" x2="64.49" y2="185.8" class="tk"/>
<line x1="64.49" y1="148.4" x2="64.49" y2="150.5" class="tk"/>
<line x1="95.58" y1="187.9" x2="95.58" y2="185.8" class="tk"/>
<line x1="95.58" y1="148.4" x2="95.58" y2="150.5" class="tk"/>
<line x1="126.68" y1="187.9" x2="126.68" y2="185.8" class="tk"/>
<line x1="126.68" y1="148.4" x2="126.68" y2="150.5" class="tk"/>
<line x1="157.77" y1="187.9" x2="157.77" y2="185.8" class="tk"/>
<line x1="157.77" y1="148.4" x2="157.77" y2="150.5" class="tk"/>
<line x1="188.86" y1="187.9" x2="188.86" y2="185.8" class="tk"/>
<line x1="188.86" y1="148.4" x2="188.86" y2="150.5" class="tk"/>
<line x1="219.95" y1="187.9" x2="219.95" y2="185.8" class="tk"/>
<line x1="219.95" y1="148.4" x2="219.95" y2="150.5" class="tk"/>
<line x1="33.4" y1="187.9" x2="35.5" y2="187.9" class="tk"/>
<line x1="247.5" y1="187.9" x2="245.4" y2="187.9" class="tk"/>
<line x1="33.4" y1="168.15" x2="35.5" y2="168.15" class="tk"/>
<line x1="247.5" y1="168.15" x2="245.4" y2="168.15" class="tk"/>
<line x1="33.4" y1="148.4" x2="35.5" y2="148.4" class="tk"/>
<line x1="247.5" y1="148.4" x2="245.4" y2="148.4" class="tk"/>
<line x1="63.99" y1="214.3" x2="63.99" y2="253.5" class="g"/>
<line x1="94.57" y1="214.3" x2="94.57" y2="253.5" class="g"/>
<line x1="125.16" y1="214.3" x2="125.16" y2="253.5" class="g"/>
<line x1="155.74" y1="214.3" x2="155.74" y2="253.5" class="g"/>
<line x1="186.33" y1="214.3" x2="186.33" y2="253.5" class="g"/>
<line x1="216.91" y1="214.3" x2="216.91" y2="253.5" class="g"/>
<line x1="33.4" y1="237.57" x2="247.5" y2="237.57" class="g"/>
<line x1="33.4" y1="221.63" x2="247.5" y2="221.63" class="g"/>
<g fill="#0072BD" fill-opacity="0.52">
<rect x="226.98" y="214.3" width="1.15" height="39.2"/>
<rect x="242.12" y="214.3" width="1.7" height="39.2" fill-opacity="0.52"/>
</g>
<path d="M33.4 214.3H247.5" class="bt"/>
<path d="M247.5 213.8V254" class="br"/>
<path d="M33.4 253.5H248" class="bb"/>
<path d="M33.4 213.7V254" class="bl"/>
<line x1="33.4" y1="253.5" x2="33.4" y2="251.4" class="tk"/>
<line x1="33.4" y1="214.3" x2="33.4" y2="216.4" class="tk"/>
<line x1="63.99" y1="253.5" x2="63.99" y2="251.4" class="tk"/>
<line x1="63.99" y1="214.3" x2="63.99" y2="216.4" class="tk"/>
<line x1="94.57" y1="253.5" x2="94.57" y2="251.4" class="tk"/>
<line x1="94.57" y1="214.3" x2="94.57" y2="216.4" class="tk"/>
<line x1="125.16" y1="253.5" x2="125.16" y2="251.4" class="tk"/>
<line x1="125.16" y1="214.3" x2="125.16" y2="216.4" class="tk"/>
<line x1="155.74" y1="253.5" x2="155.74" y2="251.4" class="tk"/>
<line x1="155.74" y1="214.3" x2="155.74" y2="216.4" class="tk"/>
<line x1="186.33" y1="253.5" x2="186.33" y2="251.4" class="tk"/>
<line x1="186.33" y1="214.3" x2="186.33" y2="216.4" class="tk"/>
<line x1="216.91" y1="253.5" x2="216.91" y2="251.4" class="tk"/>
<line x1="216.91" y1="214.3" x2="216.91" y2="216.4" class="tk"/>
<line x1="247.5" y1="253.5" x2="247.5" y2="251.4" class="tk"/>
<line x1="247.5" y1="214.3" x2="247.5" y2="216.4" class="tk"/>
<line x1="33.4" y1="253.5" x2="35.5" y2="253.5" class="tk"/>
<line x1="247.5" y1="253.5" x2="245.4" y2="253.5" class="tk"/>
<line x1="33.4" y1="237.57" x2="35.5" y2="237.57" class="tk"/>
<line x1="247.5" y1="237.57" x2="245.4" y2="237.57" class="tk"/>
<line x1="33.4" y1="221.63" x2="35.5" y2="221.63" class="tk"/>
<line x1="247.5" y1="221.63" x2="245.4" y2="221.63" class="tk"/>
<line x1="345.91" y1="17" x2="345.91" y2="56.4" class="g"/>
<line x1="377.03" y1="17" x2="377.03" y2="56.4" class="g"/>
<line x1="408.14" y1="17" x2="408.14" y2="56.4" class="g"/>
<line x1="439.26" y1="17" x2="439.26" y2="56.4" class="g"/>
<line x1="470.37" y1="17" x2="470.37" y2="56.4" class="g"/>
<line x1="501.48" y1="17" x2="501.48" y2="56.4" class="g"/>
<line x1="314.8" y1="28.58" x2="529.05" y2="28.58" class="g"/>
<g fill="#0072BD" fill-opacity="0.46">
<rect x="319.46" y="18.45" width="1.25" height="37.95"/>
<rect x="332.22" y="37.09" width="1.25" height="19.31"/>
<rect x="338.13" y="17" width="1.25" height="39.4"/>
<rect x="340.62" y="19.95" width="1.25" height="36.45"/>
<rect x="343.73" y="32.14" width="1.25" height="24.26"/>
<rect x="346.84" y="24.68" width="1.25" height="31.72"/>
<rect x="442.68" y="18.61" width="1.25" height="37.79"/>
<rect x="448.09" y="21.79" width="1.25" height="34.61"/>
<rect x="459.33" y="31.69" width="1.3" height="24.71" fill-opacity="0.87"/>
<rect x="470.43" y="32.97" width="1.25" height="23.43"/>
<rect x="475.34" y="49.94" width="1.25" height="6.46"/>
<rect x="480.82" y="40.65" width="1.25" height="15.75"/>
<rect x="482.07" y="43.82" width="1.25" height="12.58"/>
<rect x="486.65" y="37.26" width="1.3" height="19.14" fill-opacity="0.87"/>
<rect x="492.64" y="49.94" width="1.25" height="6.46"/>
<rect x="498.03" y="46.16" width="1.3" height="10.24" fill-opacity="0.87"/>
<rect x="503.04" y="44.16" width="1.25" height="12.24"/>
<rect x="504.09" y="45.27" width="1.25" height="11.13"/>
<rect x="510.81" y="45.27" width="1.25" height="11.13"/>
<rect x="512.37" y="50.28" width="1.25" height="6.12"/>
<rect x="513.93" y="51.39" width="1.25" height="5.01"/>
<rect x="515.92" y="51.39" width="1.25" height="5.01"/>
<rect x="517.95" y="41.37" width="1.3" height="15.03" fill-opacity="0.87"/>
<rect x="519.34" y="43.82" width="1.25" height="12.58"/>
<rect x="521.37" y="41.37" width="1.3" height="15.03" fill-opacity="0.87"/>
<rect x="523.57" y="48.44" width="1.25" height="7.96"/>
<rect x="524.82" y="51.39" width="1.25" height="5.01"/>
</g>
<path d="M314.8 17H529.05" class="bt"/>
<path d="M529.05 16.5V56.9" class="br2"/>
<path d="M314.8 56.4H529.55" class="bb"/>
<path d="M314.8 16.4V56.9" class="bl2"/>
<line x1="314.8" y1="56.4" x2="314.8" y2="54.3" class="tk"/>
<line x1="314.8" y1="17" x2="314.8" y2="19.1" class="tk"/>
<line x1="345.91" y1="56.4" x2="345.91" y2="54.3" class="tk"/>
<line x1="345.91" y1="17" x2="345.91" y2="19.1" class="tk"/>
<line x1="377.03" y1="56.4" x2="377.03" y2="54.3" class="tk"/>
<line x1="377.03" y1="17" x2="377.03" y2="19.1" class="tk"/>
<line x1="408.14" y1="56.4" x2="408.14" y2="54.3" class="tk"/>
<line x1="408.14" y1="17" x2="408.14" y2="19.1" class="tk"/>
<line x1="439.26" y1="56.4" x2="439.26" y2="54.3" class="tk"/>
<line x1="439.26" y1="17" x2="439.26" y2="19.1" class="tk"/>
<line x1="470.37" y1="56.4" x2="470.37" y2="54.3" class="tk"/>
<line x1="470.37" y1="17" x2="470.37" y2="19.1" class="tk"/>
<line x1="501.48" y1="56.4" x2="501.48" y2="54.3" class="tk"/>
<line x1="501.48" y1="17" x2="501.48" y2="19.1" class="tk"/>
<line x1="314.8" y1="56.4" x2="316.9" y2="56.4" class="tk"/>
<line x1="529.05" y1="56.4" x2="526.95" y2="56.4" class="tk"/>
<line x1="314.8" y1="28.58" x2="316.9" y2="28.58" class="tk"/>
<line x1="529.05" y1="28.58" x2="526.95" y2="28.58" class="tk"/>
<line x1="345.91" y1="82.6" x2="345.91" y2="122.15" class="g"/>
<line x1="377.03" y1="82.6" x2="377.03" y2="122.15" class="g"/>
<line x1="408.14" y1="82.6" x2="408.14" y2="122.15" class="g"/>
<line x1="439.26" y1="82.6" x2="439.26" y2="122.15" class="g"/>
<line x1="470.37" y1="82.6" x2="470.37" y2="122.15" class="g"/>
<line x1="501.48" y1="82.6" x2="501.48" y2="122.15" class="g"/>
<line x1="314.8" y1="92.85" x2="529.05" y2="92.85" class="g"/>
<g fill="#0072BD" fill-opacity="0.5">
<rect x="337.19" y="82.6" width="1.4" height="39.55"/>
<rect x="434.14" y="107.91" width="1.4" height="14.24"/>
<rect x="462.33" y="82.6" width="1.4" height="39.55"/>
</g>
<path d="M314.8 82.6H529.05" class="bt"/>
<path d="M529.05 82.1V122.65" class="br2"/>
<path d="M314.8 122.15H529.55" class="bb"/>
<path d="M314.8 82V122.65" class="bl2"/>
<line x1="314.8" y1="122.15" x2="314.8" y2="120.05" class="tk"/>
<line x1="314.8" y1="82.6" x2="314.8" y2="84.7" class="tk"/>
<line x1="345.91" y1="122.15" x2="345.91" y2="120.05" class="tk"/>
<line x1="345.91" y1="82.6" x2="345.91" y2="84.7" class="tk"/>
<line x1="377.03" y1="122.15" x2="377.03" y2="120.05" class="tk"/>
<line x1="377.03" y1="82.6" x2="377.03" y2="84.7" class="tk"/>
<line x1="408.14" y1="122.15" x2="408.14" y2="120.05" class="tk"/>
<line x1="408.14" y1="82.6" x2="408.14" y2="84.7" class="tk"/>
<line x1="439.26" y1="122.15" x2="439.26" y2="120.05" class="tk"/>
<line x1="439.26" y1="82.6" x2="439.26" y2="84.7" class="tk"/>
<line x1="470.37" y1="122.15" x2="470.37" y2="120.05" class="tk"/>
<line x1="470.37" y1="82.6" x2="470.37" y2="84.7" class="tk"/>
<line x1="501.48" y1="122.15" x2="501.48" y2="120.05" class="tk"/>
<line x1="501.48" y1="82.6" x2="501.48" y2="84.7" class="tk"/>
<line x1="314.8" y1="122.15" x2="316.9" y2="122.15" class="tk"/>
<line x1="529.05" y1="122.15" x2="526.95" y2="122.15" class="tk"/>
<line x1="314.8" y1="92.85" x2="316.9" y2="92.85" class="tk"/>
<line x1="529.05" y1="92.85" x2="526.95" y2="92.85" class="tk"/>
<line x1="345.41" y1="148.4" x2="345.41" y2="187.9" class="g"/>
<line x1="376.01" y1="148.4" x2="376.01" y2="187.9" class="g"/>
<line x1="406.62" y1="148.4" x2="406.62" y2="187.9" class="g"/>
<line x1="437.23" y1="148.4" x2="437.23" y2="187.9" class="g"/>
<line x1="467.84" y1="148.4" x2="467.84" y2="187.9" class="g"/>
<line x1="498.44" y1="148.4" x2="498.44" y2="187.9" class="g"/>
<line x1="314.8" y1="168.15" x2="529.05" y2="168.15" class="g"/>
<g fill="#0072BD" fill-opacity="0.48">
<rect x="524.06" y="150.38" width="1.4" height="37.53"/>
</g>
<path d="M314.8 148.4H529.05" class="bt"/>
<path d="M529.05 147.9V188.4" class="br2"/>
<path d="M314.8 187.9H529.55" class="bb"/>
<path d="M314.8 147.8V188.4" class="bl2"/>
<line x1="314.8" y1="187.9" x2="314.8" y2="185.8" class="tk"/>
<line x1="314.8" y1="148.4" x2="314.8" y2="150.5" class="tk"/>
<line x1="345.41" y1="187.9" x2="345.41" y2="185.8" class="tk"/>
<line x1="345.41" y1="148.4" x2="345.41" y2="150.5" class="tk"/>
<line x1="376.01" y1="187.9" x2="376.01" y2="185.8" class="tk"/>
<line x1="376.01" y1="148.4" x2="376.01" y2="150.5" class="tk"/>
<line x1="406.62" y1="187.9" x2="406.62" y2="185.8" class="tk"/>
<line x1="406.62" y1="148.4" x2="406.62" y2="150.5" class="tk"/>
<line x1="437.23" y1="187.9" x2="437.23" y2="185.8" class="tk"/>
<line x1="437.23" y1="148.4" x2="437.23" y2="150.5" class="tk"/>
<line x1="467.84" y1="187.9" x2="467.84" y2="185.8" class="tk"/>
<line x1="467.84" y1="148.4" x2="467.84" y2="150.5" class="tk"/>
<line x1="498.44" y1="187.9" x2="498.44" y2="185.8" class="tk"/>
<line x1="498.44" y1="148.4" x2="498.44" y2="150.5" class="tk"/>
<line x1="529.05" y1="187.9" x2="529.05" y2="185.8" class="tk"/>
<line x1="529.05" y1="148.4" x2="529.05" y2="150.5" class="tk"/>
<line x1="314.8" y1="187.9" x2="316.9" y2="187.9" class="tk"/>
<line x1="529.05" y1="187.9" x2="526.95" y2="187.9" class="tk"/>
<line x1="314.8" y1="168.15" x2="316.9" y2="168.15" class="tk"/>
<line x1="529.05" y1="168.15" x2="526.95" y2="168.15" class="tk"/>
<line x1="314.8" y1="148.4" x2="316.9" y2="148.4" class="tk"/>
<line x1="529.05" y1="148.4" x2="526.95" y2="148.4" class="tk"/>
<line x1="332.51" y1="214.3" x2="332.51" y2="253.5" class="g"/>
<line x1="368.15" y1="214.3" x2="368.15" y2="253.5" class="g"/>
<line x1="403.79" y1="214.3" x2="403.79" y2="253.5" class="g"/>
<line x1="439.42" y1="214.3" x2="439.42" y2="253.5" class="g"/>
<line x1="475.06" y1="214.3" x2="475.06" y2="253.5" class="g"/>
<line x1="510.7" y1="214.3" x2="510.7" y2="253.5" class="g"/>
<line x1="315.3" y1="245.66" x2="529.05" y2="245.66" class="g"/>
<line x1="315.3" y1="237.82" x2="529.05" y2="237.82" class="g"/>
<line x1="315.3" y1="229.98" x2="529.05" y2="229.98" class="g"/>
<line x1="315.3" y1="222.14" x2="529.05" y2="222.14" class="g"/>
<path d="M315.3 214.3H529.05" class="bt"/>
<path d="M529.05 213.8V254" class="br2"/>
<path d="M315.3 253.5H529.55" class="bb"/>
<path d="M315.3 213.7V254" class="bl2"/>
<line x1="332.51" y1="253.5" x2="332.51" y2="251.4" class="tk"/>
<line x1="332.51" y1="214.3" x2="332.51" y2="216.4" class="tk"/>
<line x1="368.15" y1="253.5" x2="368.15" y2="251.4" class="tk"/>
<line x1="368.15" y1="214.3" x2="368.15" y2="216.4" class="tk"/>
<line x1="403.79" y1="253.5" x2="403.79" y2="251.4" class="tk"/>
<line x1="403.79" y1="214.3" x2="403.79" y2="216.4" class="tk"/>
<line x1="439.42" y1="253.5" x2="439.42" y2="251.4" class="tk"/>
<line x1="439.42" y1="214.3" x2="439.42" y2="216.4" class="tk"/>
<line x1="475.06" y1="253.5" x2="475.06" y2="251.4" class="tk"/>
<line x1="475.06" y1="214.3" x2="475.06" y2="216.4" class="tk"/>
<line x1="510.7" y1="253.5" x2="510.7" y2="251.4" class="tk"/>
<line x1="510.7" y1="214.3" x2="510.7" y2="216.4" class="tk"/>
<line x1="315.3" y1="253.5" x2="317.4" y2="253.5" class="tk"/>
<line x1="527.85" y1="253.5" x2="531.25" y2="253.5" class="tk"/>
<line x1="315.3" y1="245.66" x2="317.4" y2="245.66" class="tk"/>
<line x1="527.85" y1="245.66" x2="531.25" y2="245.66" class="tk"/>
<line x1="315.3" y1="237.82" x2="317.4" y2="237.82" class="tk"/>
<line x1="527.85" y1="237.82" x2="531.25" y2="237.82" class="tk"/>
<line x1="315.3" y1="229.98" x2="317.4" y2="229.98" class="tk"/>
<line x1="527.85" y1="229.98" x2="531.25" y2="229.98" class="tk"/>
<line x1="315.3" y1="222.14" x2="317.4" y2="222.14" class="tk"/>
<line x1="527.85" y1="222.14" x2="531.25" y2="222.14" class="tk"/>
<line x1="315.3" y1="214.3" x2="317.4" y2="214.3" class="tk"/>
<line x1="527.85" y1="214.3" x2="531.25" y2="214.3" class="tk"/>
<rect x="318.26" y="222.92" width="28.51" height="31.13" fill="#0072BD"/>
<rect x="353.89" y="250.09" width="28.51" height="3.96" fill="#0072BD"/>
<rect x="389.53" y="251.54" width="28.51" height="2.51" fill="#0072BD"/>
<rect x="425.17" y="252.25" width="28.51" height="1.5" fill="#0072BD"/>
<rect x="460.81" y="252.99" width="28.51" height="0.76" fill="#0072BD"/>
<rect x="496.44" y="252.99" width="28.51" height="0.76" fill="#0072BD"/>
<polyline points="332.51,222.92 368.15,219.51 403.79,217.55 439.42,216.3 475.06,215.79 510.7,215.28 529.05,214.89" fill="none" stroke="#0072BD" stroke-width="0.6" stroke-opacity="0.8"/>
</g>
<g filter="url(#bx)">
<text transform="translate(33.4 64.2) scale(0.85 1)" class="t" text-anchor="middle">0</text>
<text transform="translate(64.49 64.2) scale(0.85 1)" class="t" text-anchor="middle">50</text>
<text transform="translate(95.58 64.2) scale(0.85 1)" class="t" text-anchor="middle">100</text>
<text transform="translate(126.68 64.2) scale(0.85 1)" class="t" text-anchor="middle">150</text>
<text transform="translate(157.77 64.2) scale(0.85 1)" class="t" text-anchor="middle">200</text>
<text transform="translate(188.86 64.2) scale(0.85 1)" class="t" text-anchor="middle">250</text>
<text transform="translate(219.95 64.2) scale(0.85 1)" class="t" text-anchor="middle">300</text>
<text transform="translate(31.6 59.1) scale(0.85 1)" class="t" text-anchor="end">0</text>
<text transform="translate(31.6 19.7) scale(0.85 1)" class="t" text-anchor="end">5000</text>
<text transform="translate(140.45 71.6) scale(0.88 1)" class="l" text-anchor="middle">Feature index</text>
<text transform="translate(139.85 14.2) scale(0.87 1)" class="ti" text-anchor="middle" textLength="21.15" lengthAdjust="spacingAndGlyphs">(NCA)</text>
<text transform="translate(16.7 36.7) rotate(-90) scale(0.88 1)" class="l" text-anchor="middle">Weight</text>
<text transform="translate(33.4 129.95) scale(0.85 1)" class="t" text-anchor="middle">0</text>
<text transform="translate(64.49 129.95) scale(0.85 1)" class="t" text-anchor="middle">50</text>
<text transform="translate(95.58 129.95) scale(0.85 1)" class="t" text-anchor="middle">100</text>
<text transform="translate(126.68 129.95) scale(0.85 1)" class="t" text-anchor="middle">150</text>
<text transform="translate(157.77 129.95) scale(0.85 1)" class="t" text-anchor="middle">200</text>
<text transform="translate(188.86 129.95) scale(0.85 1)" class="t" text-anchor="middle">250</text>
<text transform="translate(219.95 129.95) scale(0.85 1)" class="t" text-anchor="middle">300</text>
<text transform="translate(31.6 124.85) scale(0.85 1)" class="t" text-anchor="end">0</text>
<text transform="translate(31.6 110.47) scale(0.85 1)" class="t" text-anchor="end">0.1</text>
<text transform="translate(31.6 96.09) scale(0.85 1)" class="t" text-anchor="end">0.2</text>
<text transform="translate(140.45 137.35) scale(0.88 1)" class="l" text-anchor="middle">Feature index</text>
<text transform="translate(139.85 79.8) scale(0.87 1)" class="ti" text-anchor="middle" textLength="29.31" lengthAdjust="spacingAndGlyphs">(ReliefF)</text>
<text transform="translate(21.3 102.38) rotate(-90) scale(0.88 1)" class="l" text-anchor="middle">Weight</text>
<text transform="translate(33.4 195.7) scale(0.85 1)" class="t" text-anchor="middle">0</text>
<text transform="translate(64.49 195.7) scale(0.85 1)" class="t" text-anchor="middle">50</text>
<text transform="translate(95.58 195.7) scale(0.85 1)" class="t" text-anchor="middle">100</text>
<text transform="translate(126.68 195.7) scale(0.85 1)" class="t" text-anchor="middle">150</text>
<text transform="translate(157.77 195.7) scale(0.85 1)" class="t" text-anchor="middle">200</text>
<text transform="translate(188.86 195.7) scale(0.85 1)" class="t" text-anchor="middle">250</text>
<text transform="translate(219.95 195.7) scale(0.85 1)" class="t" text-anchor="middle">300</text>
<text transform="translate(31.6 190.6) scale(0.85 1)" class="t" text-anchor="end">0</text>
<text transform="translate(31.6 170.85) scale(0.85 1)" class="t" text-anchor="end">0.05</text>
<text transform="translate(31.6 151.1) scale(0.85 1)" class="t" text-anchor="end">0.1</text>
<text transform="translate(140.45 203.1) scale(0.88 1)" class="l" text-anchor="middle">Feature index</text>
<text transform="translate(139.85 145.6) scale(0.87 1)" class="ti" text-anchor="middle" textLength="98.39" lengthAdjust="spacingAndGlyphs">(Seqential Feature Selection)</text>
<text transform="translate(18.2 168.15) rotate(-90) scale(0.88 1)" class="l" text-anchor="middle">Weight</text>
<text transform="translate(33.4 261.3) scale(0.85 1)" class="t" text-anchor="middle">0</text>
<text transform="translate(63.99 261.3) scale(0.85 1)" class="t" text-anchor="middle">50</text>
<text transform="translate(94.57 261.3) scale(0.85 1)" class="t" text-anchor="middle">100</text>
<text transform="translate(125.16 261.3) scale(0.85 1)" class="t" text-anchor="middle">150</text>
<text transform="translate(155.74 261.3) scale(0.85 1)" class="t" text-anchor="middle">200</text>
<text transform="translate(186.33 261.3) scale(0.85 1)" class="t" text-anchor="middle">250</text>
<text transform="translate(216.91 261.3) scale(0.85 1)" class="t" text-anchor="middle">300</text>
<text transform="translate(247.5 261.3) scale(0.85 1)" class="t" text-anchor="middle">350</text>
<text transform="translate(31.6 256.2) scale(0.85 1)" class="t" text-anchor="end">0</text>
<text transform="translate(31.6 240.27) scale(0.85 1)" class="t" text-anchor="end">0.05</text>
<text transform="translate(31.6 224.33) scale(0.85 1)" class="t" text-anchor="end">0.1</text>
<text transform="translate(140.45 268.7) scale(0.88 1)" class="l" text-anchor="middle">Feature index</text>
<text transform="translate(139.85 211.5) scale(0.87 1)" class="ti" text-anchor="middle" textLength="82.76" lengthAdjust="spacingAndGlyphs">(Fit Classification Trees)</text>
<text transform="translate(18.5 233.9) rotate(-90) scale(0.88 1)" class="l" text-anchor="middle">Weight</text>
<text transform="translate(314.8 64.2) scale(0.85 1)" class="t" text-anchor="middle">0</text>
<text transform="translate(345.91 64.2) scale(0.85 1)" class="t" text-anchor="middle">50</text>
<text transform="translate(377.03 64.2) scale(0.85 1)" class="t" text-anchor="middle">100</text>
<text transform="translate(408.14 64.2) scale(0.85 1)" class="t" text-anchor="middle">150</text>
<text transform="translate(439.26 64.2) scale(0.85 1)" class="t" text-anchor="middle">200</text>
<text transform="translate(470.37 64.2) scale(0.85 1)" class="t" text-anchor="middle">250</text>
<text transform="translate(501.48 64.2) scale(0.85 1)" class="t" text-anchor="middle">300</text>
<text transform="translate(313 59.1) scale(0.85 1)" class="t" text-anchor="end">0</text>
<text transform="translate(313 31.28) scale(0.85 1)" class="t" text-anchor="end">500</text>
<text transform="translate(421.92 71.6) scale(0.88 1)" class="l" text-anchor="middle">Feature index</text>
<text transform="translate(421.32 14.2) scale(0.87 1)" class="ti" text-anchor="middle" textLength="55.75" lengthAdjust="spacingAndGlyphs">(Chi square test)</text>
<text transform="translate(300.6 36.7) rotate(-90) scale(0.88 1)" class="l" text-anchor="middle">Weight</text>
<text transform="translate(314.8 129.95) scale(0.85 1)" class="t" text-anchor="middle">0</text>
<text transform="translate(345.91 129.95) scale(0.85 1)" class="t" text-anchor="middle">50</text>
<text transform="translate(377.03 129.95) scale(0.85 1)" class="t" text-anchor="middle">100</text>
<text transform="translate(408.14 129.95) scale(0.85 1)" class="t" text-anchor="middle">150</text>
<text transform="translate(439.26 129.95) scale(0.85 1)" class="t" text-anchor="middle">200</text>
<text transform="translate(470.37 129.95) scale(0.85 1)" class="t" text-anchor="middle">250</text>
<text transform="translate(501.48 129.95) scale(0.85 1)" class="t" text-anchor="middle">300</text>
<text transform="translate(313 124.85) scale(0.85 1)" class="t" text-anchor="end">0</text>
<text transform="translate(313 95.55) scale(0.85 1)" class="t" text-anchor="end">0.5</text>
<text transform="translate(421.92 137.35) scale(0.88 1)" class="l" text-anchor="middle">Feature index</text>
<text transform="translate(421.32 79.8) scale(0.87 1)" class="ti" text-anchor="middle" textLength="27.01" lengthAdjust="spacingAndGlyphs">(mRMR)</text>
<text transform="translate(300.6 102.38) rotate(-90) scale(0.88 1)" class="l" text-anchor="middle">Weight</text>
<text transform="translate(314.8 195.7) scale(0.85 1)" class="t" text-anchor="middle">0</text>
<text transform="translate(345.41 195.7) scale(0.85 1)" class="t" text-anchor="middle">50</text>
<text transform="translate(376.01 195.7) scale(0.85 1)" class="t" text-anchor="middle">100</text>
<text transform="translate(406.62 195.7) scale(0.85 1)" class="t" text-anchor="middle">150</text>
<text transform="translate(437.23 195.7) scale(0.85 1)" class="t" text-anchor="middle">200</text>
<text transform="translate(467.84 195.7) scale(0.85 1)" class="t" text-anchor="middle">250</text>
<text transform="translate(498.44 195.7) scale(0.85 1)" class="t" text-anchor="middle">300</text>
<text transform="translate(529.05 195.7) scale(0.85 1)" class="t" text-anchor="middle">350</text>
<text transform="translate(313 190.6) scale(0.85 1)" class="t" text-anchor="end">0</text>
<text transform="translate(313 170.85) scale(0.85 1)" class="t" text-anchor="end">0.1</text>
<text transform="translate(313 151.1) scale(0.85 1)" class="t" text-anchor="end">0.2</text>
<text transform="translate(421.92 203.1) scale(0.88 1)" class="l" text-anchor="middle">Feature index</text>
<text transform="translate(421.32 145.6) scale(0.87 1)" class="ti" text-anchor="middle" textLength="97.24" lengthAdjust="spacingAndGlyphs">(Fit Classification Ensemble)</text>
<text transform="translate(300.6 168.15) rotate(-90) scale(0.88 1)" class="l" text-anchor="middle">Weight</text>
<text transform="translate(332.51 261.3) scale(0.85 1)" class="t" text-anchor="middle">1</text>
<text transform="translate(368.15 261.3) scale(0.85 1)" class="t" text-anchor="middle">2</text>
<text transform="translate(403.79 261.3) scale(0.85 1)" class="t" text-anchor="middle">3</text>
<text transform="translate(439.42 261.3) scale(0.85 1)" class="t" text-anchor="middle">4</text>
<text transform="translate(475.06 261.3) scale(0.85 1)" class="t" text-anchor="middle">5</text>
<text transform="translate(510.7 261.3) scale(0.85 1)" class="t" text-anchor="middle">6</text>
<text transform="translate(313.5 256.2) scale(0.85 1)" class="t" text-anchor="end">0</text>
<text transform="translate(530.55 255.6) scale(0.85 1)" class="t2" text-anchor="start">0%</text>
<text transform="translate(313.5 248.36) scale(0.85 1)" class="t" text-anchor="end">20</text>
<text transform="translate(530.55 247.76) scale(0.85 1)" class="t2" text-anchor="start">20%</text>
<text transform="translate(313.5 240.52) scale(0.85 1)" class="t" text-anchor="end">40</text>
<text transform="translate(530.55 239.92) scale(0.85 1)" class="t2" text-anchor="start">40%</text>
<text transform="translate(313.5 232.68) scale(0.85 1)" class="t" text-anchor="end">60</text>
<text transform="translate(530.55 232.08) scale(0.85 1)" class="t2" text-anchor="start">60%</text>
<text transform="translate(313.5 224.84) scale(0.85 1)" class="t" text-anchor="end">80</text>
<text transform="translate(530.55 224.24) scale(0.85 1)" class="t2" text-anchor="start">80%</text>
<text transform="translate(313.5 217) scale(0.85 1)" class="t" text-anchor="end">100</text>
<text transform="translate(530.55 216.4) scale(0.85 1)" class="t2" text-anchor="start">100%</text>
<text transform="translate(422.17 269) scale(0.88 1)" class="l" text-anchor="middle">Principle Components</text>
<text transform="translate(421.87 211.5) scale(0.87 1)" class="ti" text-anchor="middle" textLength="153.56" lengthAdjust="spacingAndGlyphs">(Percentage of Variance Explained usin PCA)</text>
<text transform="translate(301.4 234.9) rotate(-90) scale(0.88 1)" class="l" text-anchor="middle">Variance in %</text>
</g></svg></body></html>
